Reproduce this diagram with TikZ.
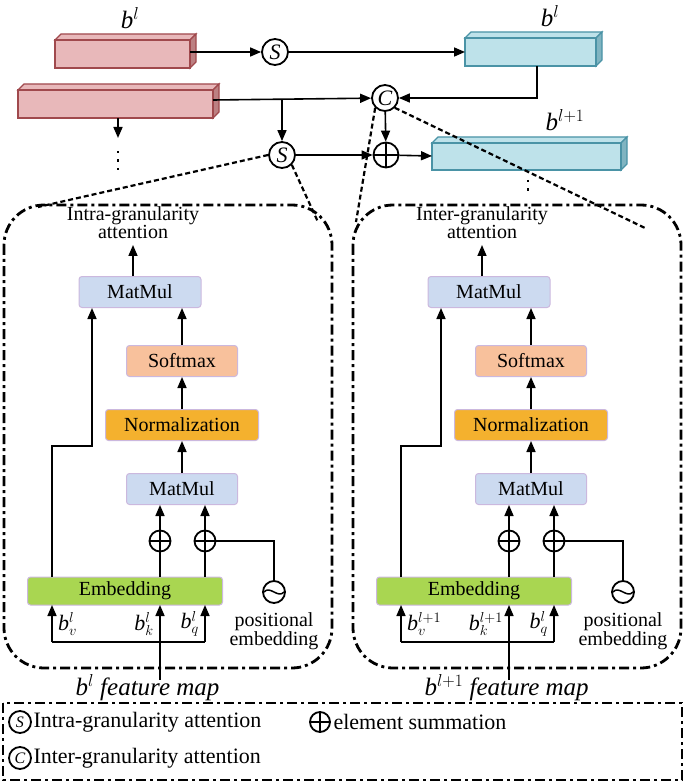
\documentclass[tikz,border=0pt]{standalone}
\usepackage{fontspec}
\setmainfont{Liberation Serif}
\usetikzlibrary{arrows.meta}
\definecolor{pinkf}{HTML}{E8B8BA}\definecolor{pinkd}{HTML}{A0494D}
\definecolor{cyanf}{HTML}{BEE2EA}\definecolor{cyand}{HTML}{4A93A6}
\definecolor{mmf}{HTML}{CCDAF0}\definecolor{smf}{HTML}{F8C19C}
\definecolor{nof}{HTML}{F4B12E}\definecolor{emf}{HTML}{A9D651}\definecolor{bd}{HTML}{CBB8DE}
\begin{document}
\begin{tikzpicture}[x=1pt,y=-1pt,font=\fontsize{22}{24}\selectfont,
 ar/.style={-{Triangle[length=11pt,width=9pt]},line width=1.6pt},
 ln/.style={line width=1.6pt},
 circ/.style={circle,draw,line width=1.8pt,minimum size=26pt,inner sep=0pt,font=\fontsize{22}{22}\selectfont\itshape},
 op/.style={circle,draw,line width=1.8pt,minimum size=21pt,inner sep=0pt,path picture={\draw[line width=1.6pt] (path picture bounding box.north)--(path picture bounding box.south) (path picture bounding box.west)--(path picture bounding box.east);}},
 blk/.style={draw=bd,rounded corners=3pt,line width=1pt,minimum height=31pt,font=\fontsize{20}{22}\selectfont},
 panel/.style={draw,line width=2.8pt,dash pattern=on 10pt off 4pt on 3pt off 4pt,rounded corners=40pt},
 dl/.style={line width=2.2pt,dash pattern=on 5pt off 3pt},
 bl/.style={font=\fontsize{25}{27}\selectfont\itshape},
 sb/.style={font=\fontsize{22}{24}\selectfont\itshape,inner sep=0pt}]
\useasboundingbox (0,0) rectangle (685,783);
\newcommand{\cuboid}[6]{%
 \fill[#5,draw=#6,line width=1.2pt] (#1,#2)--(#1+6,#2-6)--(#3+6,#2-6)--(#3,#2)--cycle;
 \fill[#6!70!white,draw=#6,line width=1.2pt] (#3,#2)--(#3+6,#2-6)--(#3+6,#4-6)--(#3,#4)--cycle;
 \fill[#5,draw=#6,line width=1.2pt] (#1,#2) rectangle (#3,#4);}
\cuboid{55}{40}{190}{68}{pinkf}{pinkd}
\cuboid{18}{90}{213}{118}{pinkf}{pinkd}
\cuboid{465}{38}{596}{66}{cyanf}{cyand}
\cuboid{432}{143}{621}{170}{cyanf}{cyand}
\coordinate (p1) at (190,52); \coordinate (p2) at (213,100);
\coordinate (c1) at (465,52); \coordinate (c1b) at (537,66);
\coordinate (c2) at (432,156);
\node[bl] (l1) at (130,18) {b$^{l}$};
\node[bl] (l2) at (550,16) {b$^{l}$};
\node[bl] (l3) at (565,120) {b$^{l+1}$};
\node[circ] (S1) at (275,52) {S};
\node[circ] (C) at (385,98) {C};
\node[circ] (S2) at (282,155) {S};
\node[op,minimum size=25pt] (P) at (386,155) {};
\draw[ar] (p1)--(S1); \draw[ar] (S1)--(c1);
\draw[ar] (p2)--(C);
\draw[ar] (c1b)|-(C);
\draw[ar] (282,100)--(S2);
\draw[ar] (S2)--(P); \draw[ar] (C)--(P); \draw[ar] (P)--(c2);
\draw[ar] (118,118)--(118,138);
\draw[line width=2.4pt,dash pattern=on 2.4pt off 6pt] (118,151)--(118,176);
\draw[line width=2.4pt,dash pattern=on 2.4pt off 6pt] (528,180)--(528,196);
\draw[dl] (S2.west)--(38,207);
\draw[dl] (S2.south east)--(318,222);
\draw[dl] (C.south west)--(356,222);
\draw[dl] (C.south east)--(645,228);
\foreach \dx/\title/\va/\vk/\vq/\fm in {0/Intra/l/l/l/l, 349/Inter/l+1/l+1/l/l+1}{
\begin{scope}[xshift=\dx]
\draw[panel] (4,205) rectangle (332,668);
\node[align=center,font=\fontsize{20}{18}\selectfont] (t) at (133,223) {\title-granularity\\attention};
\node[blk,fill=mmf,minimum width=122pt] (mm1) at (140,292) {MatMul};
\node[blk,fill=smf,minimum width=111pt] (sm) at (182,361) {Softmax};
\node[blk,fill=nof,minimum width=153pt] (no) at (182,425) {Normalization};
\node[blk,fill=mmf,minimum width=111pt] (mm2) at (182,489) {MatMul};
\node[op] (o1) at (160,541) {};
\node[op] (o2) at (205,541) {};
\node[blk,fill=emf,minimum width=195pt,minimum height=28pt] (em) at (125,591) {Embedding};
\node[circle,draw,line width=1.8pt,minimum size=22pt,inner sep=0pt] (pe) at (274,592) {};
\draw[line width=1.5pt] (264,592) .. controls (270,585) and (278,599) .. (284,592);
\node[align=center,font=\fontsize{20}{18}\selectfont] (pel) at (274,631) {positional\\embedding};
\draw[ar] (133,276)--(133,245);
\draw[ar] (sm.north)--(182,308);
\draw[ar] (no.north)--(182,377);
\draw[ar] (mm2.north)--(182,441);
\draw[ar] (o1.north)--(160,505);
\draw[ar] (o2.north)--(205,505);
\draw[ln] (160,577)--(o1.south);
\draw[ln] (205,577)--(o2.south);
\draw[ln] (o2.east)-|(pe.north);
\draw[ar] (52,577)--(52,446)--(92,446)--(92,308);
\draw[ln] (52,642)--(205,642);
\draw[ar] (52,642)--(52,605);
\draw[ar] (160,680)--(160,605);
\draw[ar] (205,642)--(205,605);
\node[sb,anchor=west] (bv) at (58,624) {b$^{\va}_{v}$};
\node[sb,anchor=east] (bk) at (154,624) {b$^{\vk}_{k}$};
\node[sb,anchor=east] (bq) at (199,624) {b$^{\vq}_{q}$};
\node[bl,anchor=west] (fm) at (72,688) {b$^{\fm}$ feature map};
\end{scope}}
\draw[panel,rounded corners=0pt] (3,703) rectangle (682,780);
\node[circ,minimum size=22pt,font=\fontsize{16}{16}\selectfont\itshape] (LS) at (20,722) {S};
\node[anchor=west] (LSt) at (30,722) {Intra-granularity attention};
\node[op,minimum size=20pt] (LP) at (320,722) {};
\node[anchor=west] (LPt) at (330,722) {element summation};
\node[circ,minimum size=22pt,font=\fontsize{16}{16}\selectfont\itshape] (LC) at (20,758) {C};
\node[anchor=west] (LCt) at (30,758) {Inter-granularity attention};
\end{tikzpicture}
\end{document}
